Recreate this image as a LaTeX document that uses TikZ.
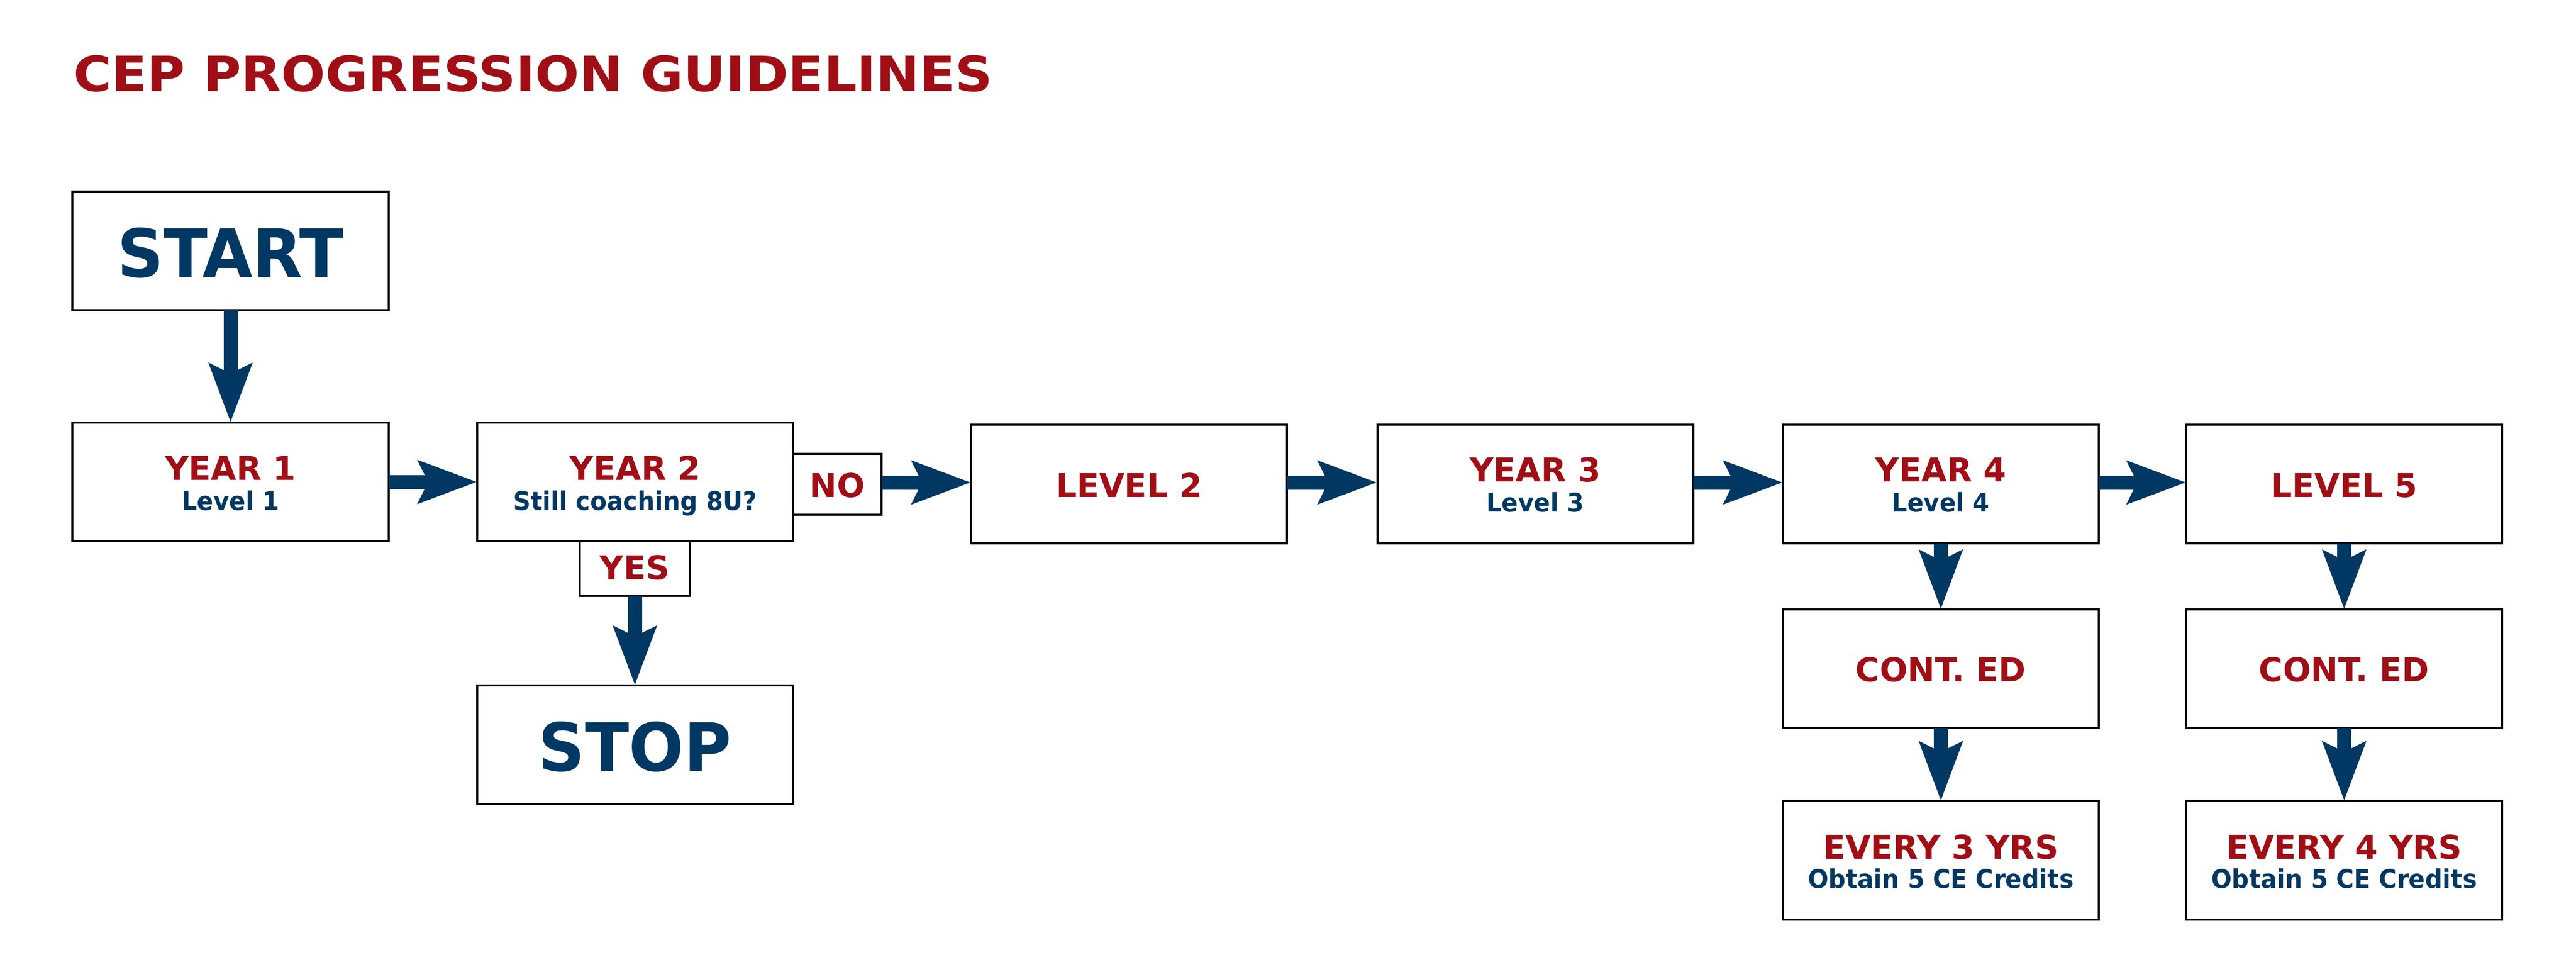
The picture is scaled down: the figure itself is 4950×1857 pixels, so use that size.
\documentclass[tikz,border=0pt]{standalone}
\usepackage{fontspec}
\usetikzlibrary{arrows.meta}
\newfontfamily\titlef[FakeStretch=1.07]{DejaVu Sans}
\newfontfamily\mainf{DejaVu Sans}
\newfontfamily\subf[FakeStretch=0.94]{DejaVu Sans}
\newfontfamily\bigf[FakeStretch=0.97]{DejaVu Sans}
\definecolor{cred}{RGB}{160,14,22}
\definecolor{cblue}{RGB}{0,56,100}
\tikzset{
  boxnode/.style={draw=black, line width=0.8pt, fill=white, minimum width=121.4pt, minimum height=45.6pt, inner sep=0pt, outer sep=0pt},
  smallbox/.style={draw=black, line width=0.8pt, fill=white, inner sep=0pt, outer sep=0pt},
  redlab/.style={text=cred, font=\mainf\bfseries\fontsize{12.6}{14}\selectfont, inner sep=0pt, anchor=base},
  sublab/.style={text=cblue, font=\subf\bfseries\fontsize{9.9}{12}\selectfont, inner sep=0pt, anchor=base},
  biglab/.style={text=cblue, font=\bigf\bfseries\fontsize{25.6}{30}\selectfont, inner sep=0pt, anchor=base},
  titlelab/.style={text=cred, font=\titlef\bfseries\fontsize{18.66}{22}\selectfont, inner sep=0pt, anchor=base west},
  flowarrow/.style={draw=cblue, line width=5.4pt, -{Stealth[length=22.4pt, width=16pt, inset=3.6pt]}}
}
\begin{document}
\begin{tikzpicture}[x=0.2pt,y=-0.2pt]
\useasboundingbox (0,0) rectangle (4950,1857);
\fill[white] (0,0) rectangle (4950,1857);

% title
\node[titlelab] (title) at (140,175) {CEP PROGRESSION GUIDELINES};

% boxes
\node[boxnode] (start) at (443,482) {};
\node[boxnode] (y1) at (443,926) {};
\node[boxnode] (y2) at (1220.5,926) {};
\node[smallbox, minimum width=34pt, minimum height=23.4pt] (no) at (1609,930) {};
\node[smallbox, minimum width=42.4pt, minimum height=21pt] (yes) at (1220,1092.5) {};
\node[boxnode] (stop) at (1220,1431) {};
\node[boxnode] (l2) at (2169.5,930) {};
\node[boxnode] (y3) at (2950,930) {};
\node[boxnode] (y4) at (3729.5,930) {};
\node[boxnode] (l5) at (4504.5,930) {};
\node[boxnode] (ce4) at (3729.5,1285) {};
\node[boxnode] (ce5) at (4504.5,1285) {};
\node[boxnode] (ev3) at (3729.5,1653) {};
\node[boxnode] (ev4) at (4504.5,1653) {};

% labels
\node[biglab] (startt) at (443,532) {START};
\node[biglab] (stopt) at (1220,1481) {STOP};
\node[redlab] (y1t) at (443,922) {YEAR 1};
\node[sublab] (y1s) at (443,980) {Level 1};
\node[redlab] (y2t) at (1220.5,922) {YEAR 2};
\node[sublab] (y2s) at (1220.5,980) {Still coaching 8U?};
\node[redlab] (not) at (1609,955) {NO};
\node[redlab] (yest) at (1220,1113) {YES};
\node[redlab] (l2t) at (2169.5,955) {LEVEL 2};
\node[redlab] (y3t) at (2950,925) {YEAR 3};
\node[sublab] (y3s) at (2950,983) {Level 3};
\node[redlab] (y4t) at (3729.5,925) {YEAR 4};
\node[sublab] (y4s) at (3729.5,983) {Level 4};
\node[redlab] (l5t) at (4504.5,955) {LEVEL 5};
\node[redlab] (ce4t) at (3729.5,1309) {CONT. ED};
\node[redlab] (ce5t) at (4504.5,1309) {CONT. ED};
\node[redlab] (ev3t) at (3729.5,1650) {EVERY 3 YRS};
\node[sublab] (ev3s) at (3729.5,1706) {Obtain 5 CE Credits};
\node[redlab] (ev4t) at (4504.5,1650) {EVERY 4 YRS};
\node[sublab] (ev4s) at (4504.5,1706) {Obtain 5 CE Credits};

% arrows
\draw[flowarrow] (start.south) -- (y1.north);
\draw[flowarrow] (y1.east) -- (y2.west);
\draw[flowarrow] ([yshift=0.6pt]no.east) -- ([yshift=0.6pt]l2.west);
\draw[flowarrow] (yes.south) -- (stop.north);
\draw[flowarrow] ([yshift=0.6pt]l2.east) -- ([yshift=0.6pt]y3.west);
\draw[flowarrow] ([yshift=0.6pt]y3.east) -- ([yshift=0.6pt]y4.west);
\draw[flowarrow] ([yshift=0.6pt]y4.east) -- ([yshift=0.6pt]l5.west);
\draw[flowarrow] (y4.south) -- (ce4.north);
\draw[flowarrow] (ce4.south) -- (ev3.north);
\draw[flowarrow] (l5.south) -- (ce5.north);
\draw[flowarrow] (ce5.south) -- (ev4.north);
\end{tikzpicture}
\end{document}
